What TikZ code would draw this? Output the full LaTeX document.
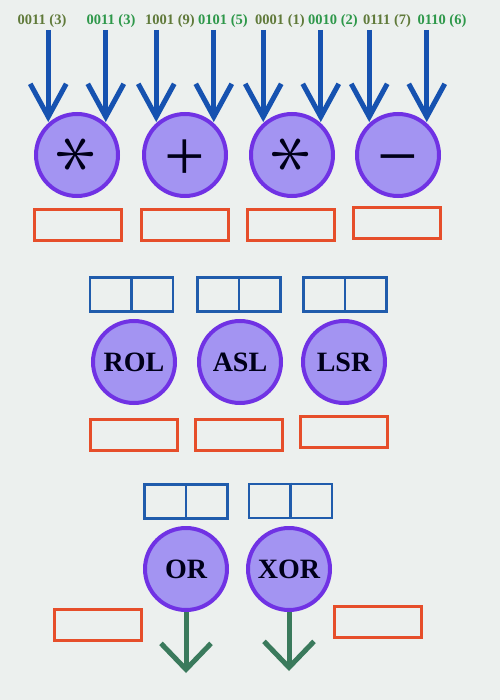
\RequirePackage{fix-cm}
\documentclass[tikz,border=0pt]{standalone}
\usepackage{fontspec}
\setmainfont{Liberation Serif}
\usetikzlibrary{arrows.meta}

\definecolor{paper}{RGB}{236,240,238}
\definecolor{opfill}{RGB}{163,148,242}
\definecolor{opedge}{RGB}{112,50,228}
\definecolor{resred}{RGB}{230,78,42}
\definecolor{regblue}{RGB}{32,92,172}
\definecolor{feedblue}{RGB}{22,82,176}
\definecolor{outgreen}{RGB}{58,122,92}
\definecolor{bitolive}{RGB}{96,122,58}
\definecolor{bitgreen}{RGB}{46,152,74}

\newcommand{\opsym}[2]{\mdseries\fontsize{#1}{#1}\selectfont\raisebox{-0.35em}[0pt][0pt]{#2}}
\newcommand{\opstar}[1]{\fontsize{#1}{#1}\selectfont\rotatebox{90}{$\ast$}}

\begin{document}
\begin{tikzpicture}[x=1pt, y=-1pt,
    operation/.style ={circle, draw=opedge, fill=opfill, line width=4pt,
      minimum size=82pt, inner sep=0pt, text={black!90!blue},
      font=\bfseries\fontsize{28}{28}\selectfont},
    result/.style ={draw=resred, line width=3pt, minimum width=87pt,
      minimum height=31pt, inner sep=0pt},
    operand/.style ={draw=regblue, line width=2.6pt, minimum width=83pt,
      minimum height=34pt, inner sep=0pt},
    divider/.style ={draw=regblue, line width=2.6pt},
    bits/.style ={font=\bfseries\fontsize{14.5}{16}\selectfont, inner sep=0pt},
    feed/.style ={draw=feedblue, line width=5pt, shorten >=1pt,
      -{Straight Barb[length=33pt,width=36pt]}},
    drain/.style ={draw=outgreen, line width=5pt,
      -{Straight Barb[length=26pt,width=50pt]}}]

   \fill[paper] (0,0) rectangle (500,700);

   % operand values
   \node[bits, text=bitolive] (valA) at (42,21)  {0011 (3)};
   \node[bits, text=bitgreen] (valB) at (111,21) {0011 (3)};
   \node[bits, text=bitolive] (valC) at (170,21) {1001 (9)};
   \node[bits, text=bitgreen] (valD) at (223,21) {0101 (5)};
   \node[bits, text=bitolive] (valE) at (280,21) {0001 (1)};
   \node[bits, text=bitgreen] (valF) at (333,21) {0010 (2)};
   \node[bits, text=bitolive] (valG) at (387,21) {0111 (7)};
   \node[bits, text=bitgreen] (valH) at (442,21) {0110 (6)};

   % arithmetic row
   \node[operation] (mulA) at (77,155)  {\opstar{84}};
   \node[operation] (addB) at (185,155) {\opsym{72}{+}};
   \node[operation] (mulC) at (292,155) {\opstar{84}};
   \node[operation] (subD) at (398,155) {\opsym{72}{−}};

   \node[result] (resA) at (78,225)  {};
   \node[result] (resB) at (185,225) {};
   \node[result] (resC) at (291,225) {};
   \node[result] (resD) at (397,223) {};

   \coordinate (inA) at (mulA.132 |- 0,30);
   \coordinate (inB) at (mulA.48 |- 0,30);
   \coordinate (inC) at (addB.132 |- 0,30);
   \coordinate (inD) at (addB.48 |- 0,30);
   \coordinate (inE) at (mulC.132 |- 0,30);
   \coordinate (inF) at (mulC.48 |- 0,30);
   \coordinate (inG) at (subD.132 |- 0,30);
   \coordinate (inH) at (subD.48 |- 0,30);

   \draw[feed] (inA) -- (mulA.132);
   \draw[feed] (inB) -- (mulA.48);
   \draw[feed] (inC) -- (addB.132);
   \draw[feed] (inD) -- (addB.48);
   \draw[feed] (inE) -- (mulC.132);
   \draw[feed] (inF) -- (mulC.48);
   \draw[feed] (inG) -- (subD.132);
   \draw[feed] (inH) -- (subD.48);

   % shift row
   \node[operand] (regRol) at (131.5,294.5) {};
   \node[operand] (regAsl) at (239,294.5)   {};
   \node[operand] (regLsr) at (345,294.5)   {};
   \draw[divider] (regRol.north) -- (regRol.south);
   \draw[divider] (regAsl.north) -- (regAsl.south);
   \draw[divider] (regLsr.north) -- (regLsr.south);

   \node[operation] (rol) at (134,362) {ROL};
   \node[operation] (asl) at (240,362) {ASL};
   \node[operation] (lsr) at (344,362) {LSR};

   \node[result] (resRol) at (133.5,435) {};
   \node[result] (resAsl) at (239,435)   {};
   \node[result] (resLsr) at (343.5,432) {};

   % logic row
   \node[operand] (regOr)  at (186,501.5) {};
   \node[operand] (regXor) at (290.5,501) {};
   \draw[divider] (regOr.north) -- (regOr.south);
   \draw[divider] (regXor.north) -- (regXor.south);

   \node[operation] (orop)  at (186,569) {OR};
   \node[operation] (xorop) at (289,569) {XOR};

   \node[result] (resLeft)  at (97.5,624.5) {};
   \node[result] (resRight) at (377.5,622) {};

   \coordinate (outOr)  at (186,673);
   \coordinate (outXor) at (289,671);
   \draw[drain] (orop) -- (outOr);
   \draw[drain] (xorop) -- (outXor);

 \end{tikzpicture}
\end{document}
